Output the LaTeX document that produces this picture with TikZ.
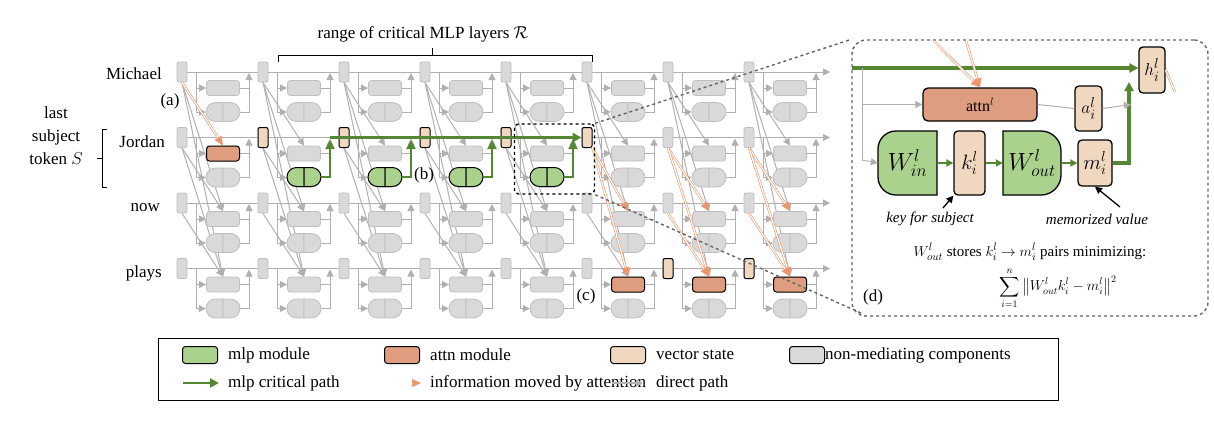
\documentclass[tikz,border=0pt]{standalone}
\usepackage{fontspec}
\setmainfont{Liberation Serif}
\usepackage{amsmath,amssymb}
\usetikzlibrary{arrows.meta,backgrounds}
\definecolor{fgray}{RGB}{217,217,217}
\definecolor{sgray}{RGB}{192,190,190}
\definecolor{lgray}{RGB}{178,175,175}
\definecolor{tanf}{RGB}{240,216,192}
\definecolor{orf}{RGB}{222,157,127}
\definecolor{oline}{RGB}{236,150,110}
\definecolor{grf}{RGB}{170,210,140}
\definecolor{grl}{RGB}{84,134,52}
\definecolor{dgray}{RGB}{100,100,100}
\newcommand{\mlpshape}[4]{%
  \draw[#3] ({#1},{#2-9.5}) -- ({#1-7.5},{#2-9.5}) arc[start angle=270, end angle=90, radius=9.5] -- ({#1},{#2+9.5}) -- cycle;
  \draw[#3] ({#1},{#2-9.5}) -- ({#1+7.5},{#2-9.5}) arc[start angle=270, end angle=450, radius=9.5] -- ({#1},{#2+9.5}) -- cycle;}
\tikzset{
 gl/.style={draw=lgray, line width=1pt},
 ga/.style={gl, -{Triangle[length=7pt,width=7pt]}},
 st/.style={draw=sgray, fill=fgray, rounded corners=2pt, minimum width=10pt, minimum height=20pt, inner sep=0pt, line width=0.8pt},
 atn/.style={draw=sgray, fill=fgray, rounded corners=3pt, minimum width=33pt, minimum height=15pt, inner sep=0pt, line width=0.8pt},
 ml/.style={minimum width=34pt, minimum height=19pt, inner sep=0pt},
 gshape/.style={draw=sgray, fill=fgray, line width=0.8pt},
 hshape/.style={draw=black, fill=grf, line width=1pt},
 tst/.style={st, draw=black, fill=tanf, line width=1pt},
 oat/.style={atn, draw=black, fill=orf, line width=1pt},
 gp/.style={draw=grl, line width=2.6pt, -{Triangle[length=9pt,width=9pt]}},
 oa/.style={draw=oline, double=white, double distance=1.2pt, line width=0.6pt, -{Triangle[length=9pt,width=8pt,fill=oline]}},
 lab/.style={font=\fontsize{17}{20}\selectfont, inner sep=0pt},
 hb/.style={draw=black, fill=tanf, rounded corners=4pt, line width=1.3pt, inner sep=0pt},
}
\begin{document}
\begin{tikzpicture}[x=1pt,y=-1pt]
\useasboundingbox (0,0) rectangle (1214,424);
\foreach \r in {0,...,3}{\foreach \c in {0,...,7}{
 \pgfmathsetmacro\x{182+81*\c}\pgfmathsetmacro\y{72+65.5*\r}
 \node[st] (s-\r-\c) at (\x,\y) {};
 \node[atn] (a-\r-\c) at (\x+41,\y+16) {};
 \node[ml] (m-\r-\c) at (\x+41,\y+40) {};
 \mlpshape{\x+41}{\y+40}{gshape}{}
}}
\foreach \r/\c in {1/1,1/2,1/3,1/4,1/5,3/6,3/7}{
 \pgfmathsetmacro\x{182+81*\c}\pgfmathsetmacro\y{72+65.5*\r}
 \node[tst] (s-\r-\c) at (\x,\y) {};}
\foreach \r/\c in {1/0,3/5,3/6,3/7}{
 \pgfmathsetmacro\x{182+81*\c}\pgfmathsetmacro\y{72+65.5*\r}
 \node[oat] (a-\r-\c) at (\x+41,\y+16) {};}
\foreach \c in {1,...,4}{
 \pgfmathsetmacro\x{182+81*\c}
 \mlpshape{\x+41}{177}{hshape}{}}
\begin{pgfonlayer}{background}
\foreach \r in {0,...,3}{\foreach \c in {0,...,7}{
 \pgfmathsetmacro\x{182+81*\c}\pgfmathsetmacro\y{72+65.5*\r}
 \pgfmathtruncatemacro\n{\c+1}
 \ifnum\c<7 \draw[gl] (s-\r-\c.east) -- (s-\r-\n.west);
 \else \coordinate (e-\r) at (830,\y); \draw[ga] (s-\r-\c.east) -- (e-\r); \fi
 \draw[gl] (\x+14,\y) -- (\x+14,\y+40);
 \draw[ga] (\x+14,\y+16) -- (a-\r-\c.west);
 \draw[ga] (\x+14,\y+40) -- (m-\r-\c.west);
 \draw[gl] (a-\r-\c.east) -- (\x+67,\y+16);
 \draw[ga] (m-\r-\c.east) -| (\x+67,\y+1);
}}
\foreach \r in {0,...,2}{\foreach \c in {0,...,7}{
 \pgfmathtruncatemacro\rs{\r+1}
 \foreach \rr in {\rs,...,3}{
  \pgfmathtruncatemacro\isor{((\c==0)&&(\r==0)&&(\rr==1))||((\c==5)&&(\r==1))||((\c>5)&&(\r>0))}
  \ifnum\isor=0 \draw[ga] (s-\r-\c.south) -- (a-\rr-\c.north); \fi
 }}}
\end{pgfonlayer}
\draw[oa] (s-0-0.south) -- (a-1-0.north);
\foreach \rr in {2,3} \draw[oa] (s-1-5.south east) -- (a-\rr-5.north);
\foreach \c in {6,7}{
 \draw[oa] (s-1-\c.south) -- (a-2-\c.north);
 \draw[oa] (s-1-\c.south) -- (a-3-\c.north);
 \draw[oa] (s-2-\c.south) -- (a-3-\c.north);}
\coordinate (g0) at (330,137.5);
\draw[gp] (g0) -- (s-1-5.west);
\foreach \c in {1,...,4}{\pgfmathsetmacro\x{182+81*\c}
 \draw[gp] (\x+58,177) -| (\x+67,140);}
\node[draw=black, dashed, line width=1.4pt, rounded corners=4pt, minimum width=80pt, minimum height=70pt] (zb) at (554.5,159) {};
\node[draw=dgray, dashed, line width=1.4pt, rounded corners=14pt, minimum width=356pt, minimum height=276pt] (ins) at (1030,178) {};
\draw[dgray, dashed, line width=1.4pt] (zb.north east) -- (ins.north west);
\draw[dgray, dashed, line width=1.4pt] (zb.south east) -- (861,313);
\draw[line width=0.8pt] (278,62) -- (278,55) -- (592,55) -- (592,62) (432,55) -- (432,48);
\node[lab] (rng) at (423,34) {range of critical MLP layers $\mathcal{R}$};
\node[lab, anchor=east] (t0) at (162,74) {Michael};
\node[lab, anchor=east] (t1) at (165,142) {Jordan};
\node[lab, anchor=east] (t2) at (160,208) {now};
\node[lab, anchor=east] (t3) at (162,273) {plays};
\node[lab] (la) at (170,101) {(a)};
\node[lab] (lb) at (424,175) {(b)};
\node[lab] (lc) at (586,296) {(c)};
\node[lab, align=center, font=\fontsize{17}{23}\selectfont] (ls) at (56,136) {last\\subject\\token $S$};
\draw[line width=0.8pt] (107,129) -| (102,187) -- (107,187) (102,158) -- (97,158);
\node[hb, minimum width=26pt, minimum height=46pt, font=\fontsize{19}{21}\selectfont] (h) at (1152,70) {$h^l_i$};
\node[draw=black, fill=orf, rounded corners=5pt, line width=1.3pt, minimum width=114pt, minimum height=33pt, font=\fontsize{16}{18}\selectfont] (att) at (980,104.5) {attn$^l$};
\node[hb, minimum width=27pt, minimum height=45pt, font=\fontsize{19}{21}\selectfont] (ai) at (1088.5,108.5) {$a^l_i$};
\node[minimum width=59pt, minimum height=64pt, inner sep=0pt] (win) at (907.5,163) {};
\draw[draw=black, fill=grf, line width=1.3pt] (937,163) [sharp corners]-- (937,131) [rounded corners=18pt]-- (878,131) -- (878,195) [sharp corners]-- (937,195) -- cycle;
\node[font=\fontsize{24}{26}\selectfont] at (win) {$W^l_{in}$};
\node[hb, minimum width=31pt, minimum height=64pt, font=\fontsize{20}{22}\selectfont] (ki) at (969.5,163) {$k^l_i$};
\node[minimum width=58pt, minimum height=64pt, inner sep=0pt] (wout) at (1032,163) {};
\draw[draw=black, fill=grf, line width=1.3pt] (1003,163) [sharp corners]-- (1003,131) [rounded corners=20pt]-- (1061,131) -- (1061,195) [sharp corners]-- (1003,195) -- cycle;
\node[font=\fontsize{24}{26}\selectfont] at (wout) {$W^l_{out}$};
\node[hb, minimum width=34pt, minimum height=46pt, font=\fontsize{20}{22}\selectfont] (mi) at (1095,163) {$m^l_i$};
\coordinate (gin) at (852,68);
\draw[gp, line width=3.4pt] (gin) -- (h.west |- gin);
\draw[gp, line width=3.4pt] (mi.east) -| (1129,82);
\draw[gl] (862,68) -- (862,160);
\draw[ga] (862,104.5) -- (att.west);
\draw[ga] (862,160) -- (win.west);
\draw[gl] (att.east) -- (ai.west);
\draw[ga] (ai.east) -- (1131,104.5);
\draw[draw=grl, line width=2pt, -{Triangle[length=7pt,width=7pt]}] (win.east) -- (ki.west);
\draw[draw=grl, line width=2pt, -{Triangle[length=7pt,width=7pt]}] (ki.east) -- (wout.west);
\draw[draw=grl, line width=2pt, -{Triangle[length=7pt,width=7pt]}] (wout.east) -- (mi.west);
\coordinate (o1) at (934,41); \coordinate (o2) at (966,41);
\draw[oa] (o1) -- (att.north); \draw[oa] (o2) -- (att.north);
\coordinate (o3) at (1175,92);
\draw[draw=oline, double=white, double distance=1.2pt, line width=0.6pt] (h.east) -- (o3);
\node[font=\fontsize{15}{17}\selectfont\itshape, inner sep=0pt] (kfs) at (930,219) {key for subject};
\node[font=\fontsize{15}{17}\selectfont\itshape, inner sep=0pt] (mv) at (1097,219) {memorized value};
\draw[line width=1.3pt, -{Triangle[length=7pt,width=7pt]}] (943,208) -- (ki.south west);
\draw[line width=1.3pt, -{Triangle[length=7pt,width=7pt]}] (1120,207) -- (mi.south);
\node[font=\fontsize{15}{17}\selectfont, inner sep=0pt] (st) at (1030,252) {$W^l_{out}$ stores $k^l_i \rightarrow m^l_i$ pairs minimizing:};
\node[font=\fontsize{14}{16}\selectfont, inner sep=0pt] (sm) at (1058,288) {$\displaystyle\sum_{i=1}^{n}\big\lVert W^l_{out}k^l_i - m^l_i\big\rVert^2$};
\node[lab] (ld) at (873,297) {(d)};
\node[draw=black, line width=1pt, minimum width=900pt, minimum height=62pt] (leg) at (608,369) {};
\tikzset{lb/.style={minimum width=35pt, minimum height=17pt, rounded corners=3pt, line width=1pt, draw=black, inner sep=0pt}, lt/.style={lab, anchor=west}}
\node[lb, fill=grf] (k1) at (200,355) {};
\node[lt] at (228,355) {mlp module};
\node[lb, fill=orf] (k2) at (402,355) {};
\node[lt] at (430,355) {attn module};
\node[lb, fill=tanf] (k3) at (628,355) {};
\node[lt] at (656,355) {vector state};
\node[lb, fill=fgray] (k4) at (807,355) {};
\node[lt] at (825,355) {non-mediating components};
\coordinate (p1) at (183,383); \coordinate (q1) at (219,383);
\coordinate (p2) at (385,383); \coordinate (q2) at (421,383);
\coordinate (p3) at (612,383); \coordinate (q3) at (643,383);
\draw[gp] (p1) -- (q1); \node[lt] at (228,383) {mlp critical path};
\draw[oa] (p2) -- (q2); \node[lt] at (430,383) {information moved by attention};
\draw[ga, line width=1.4pt] (p3) -- (q3); \node[lt] at (656,383) {direct path};
\end{tikzpicture}
\end{document}
